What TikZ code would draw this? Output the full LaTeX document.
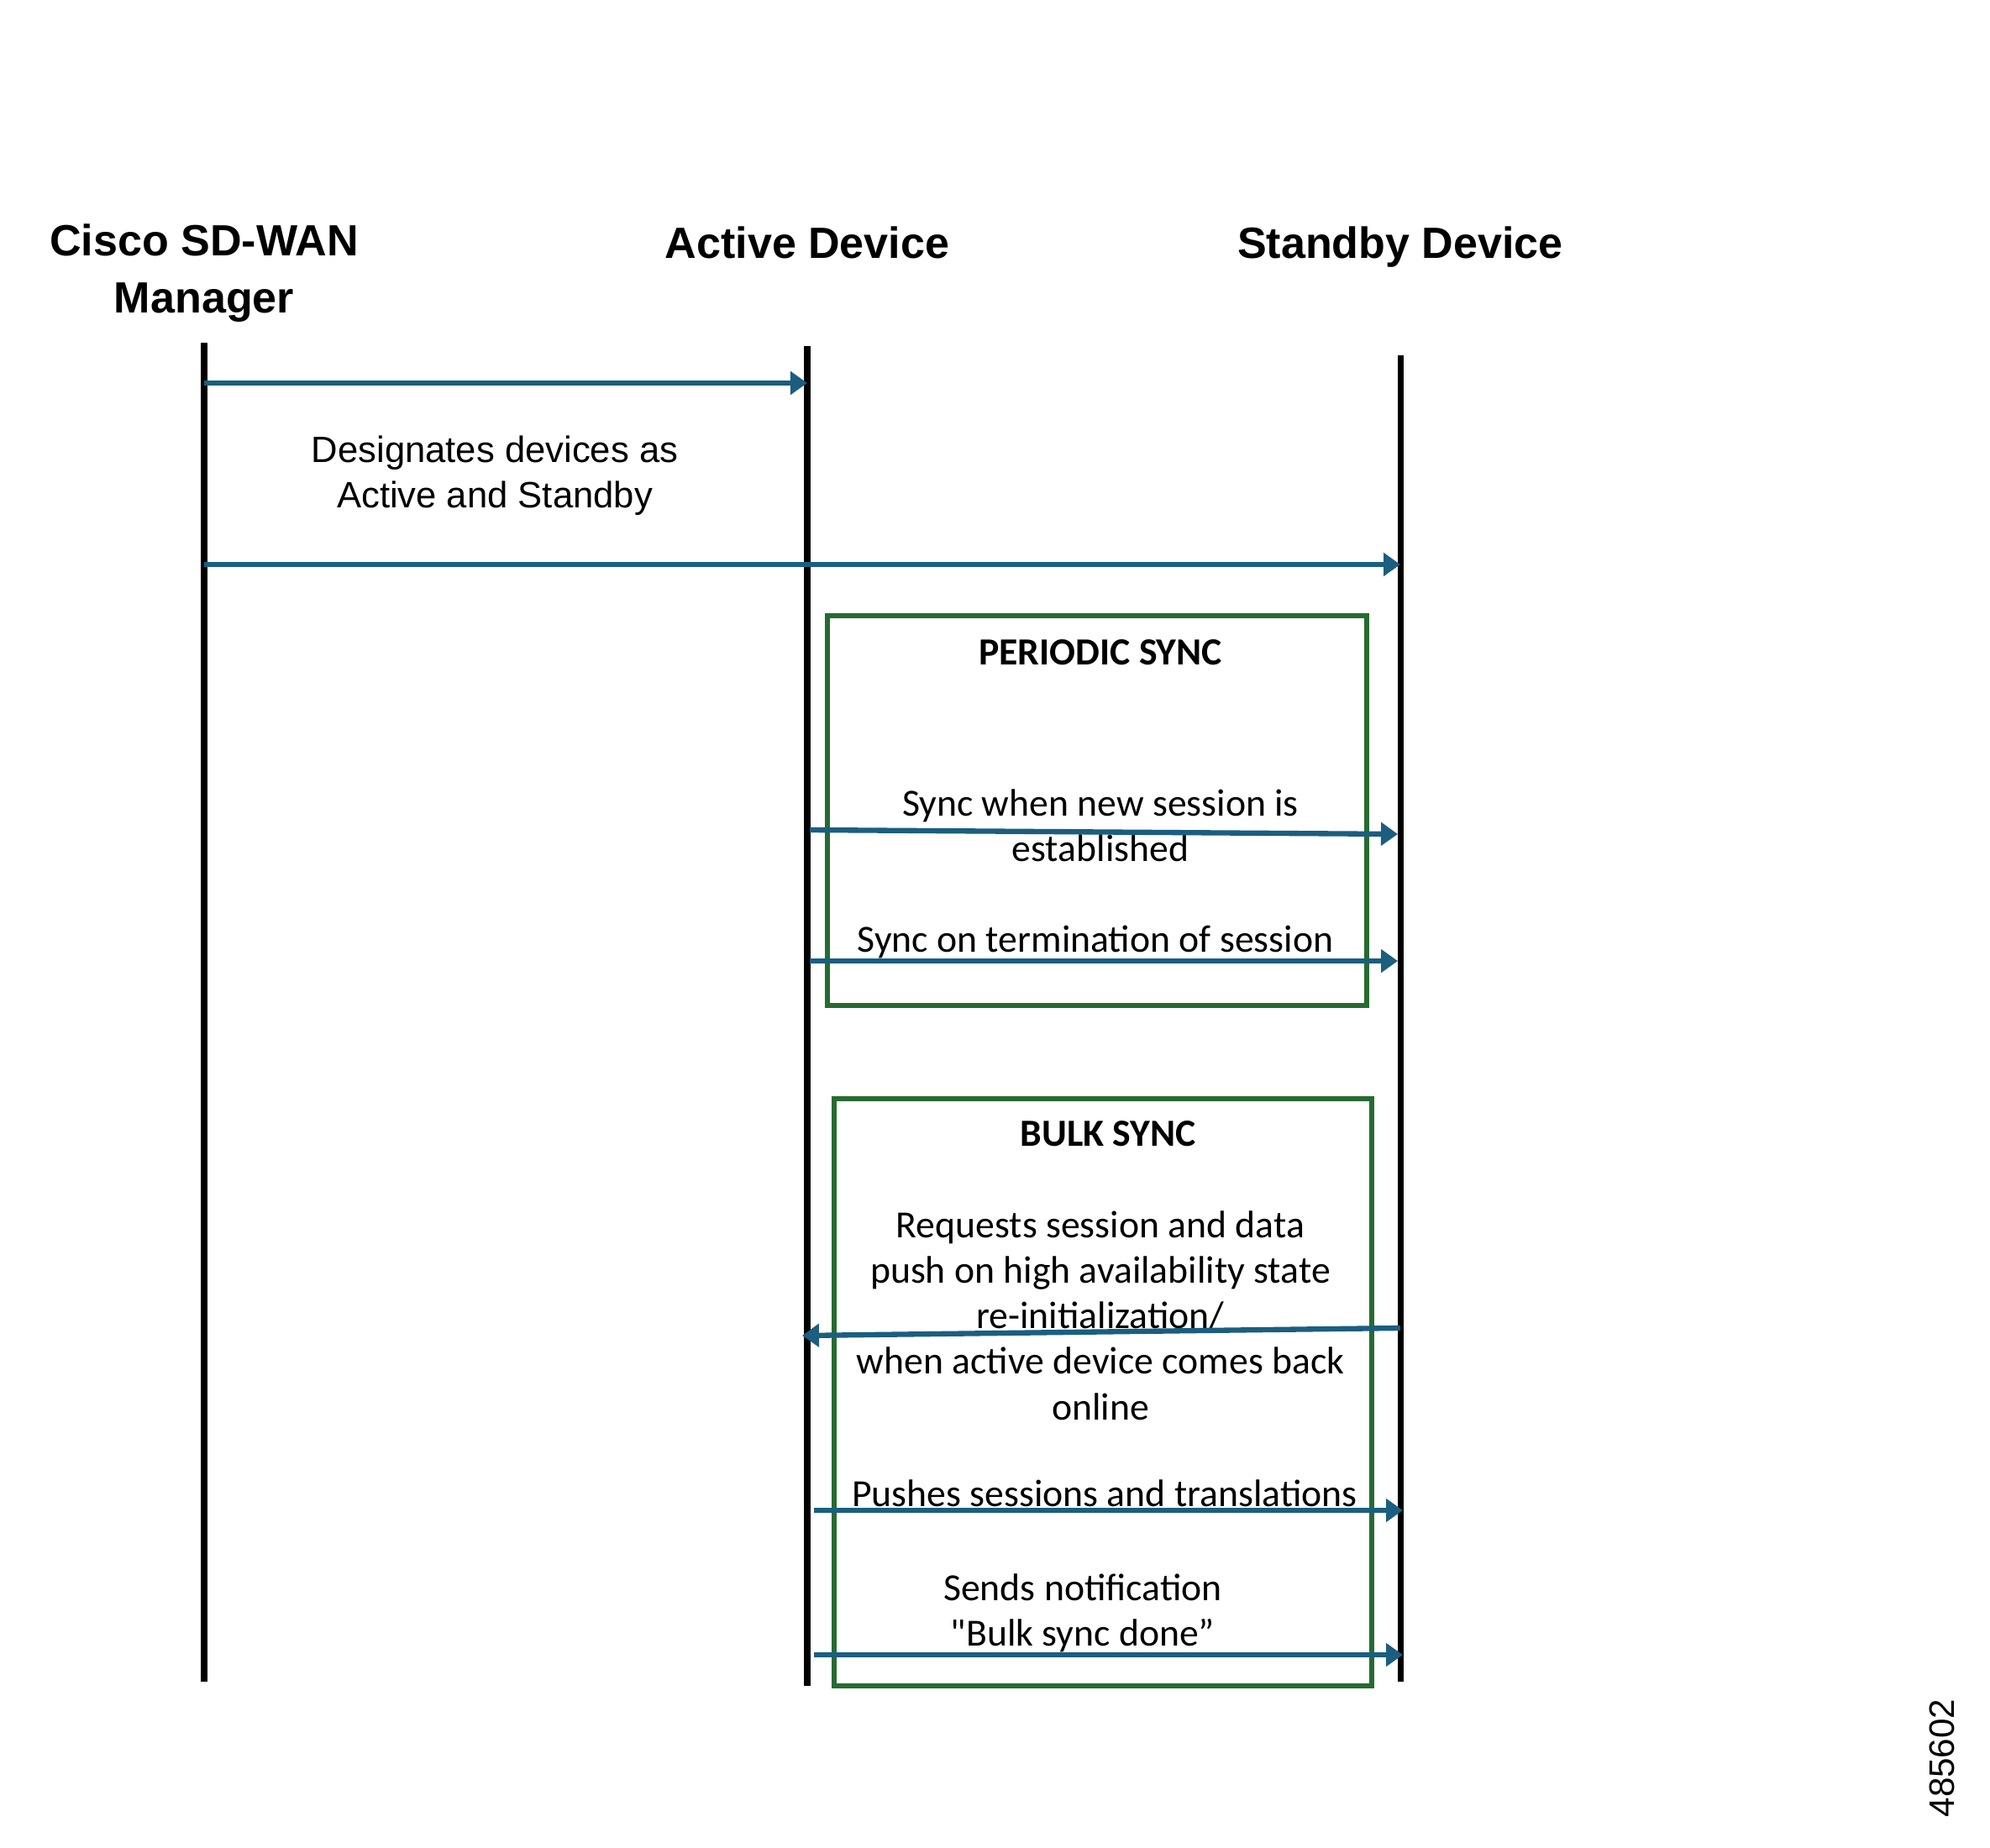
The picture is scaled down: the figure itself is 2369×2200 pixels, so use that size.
\documentclass[tikz,border=0pt]{standalone}
\usepackage{fontspec}
\setmainfont{Carlito}
\newfontfamily\headfont{Liberation Sans}
\newfontfamily\quotefont{Carlito}[Ligatures=ResetAll]
\usepackage{tikz}
\usetikzlibrary{arrows.meta,backgrounds}
\definecolor{msgblue}{RGB}{27,94,128}
\definecolor{boxgreen}{RGB}{38,107,48}
\tikzstyle{seq}=[
  x=0.01cm, y=-0.01cm, font=\fontsize{13}{15.4}\selectfont
]
\tikzstyle{actor}=[
  font=\headfont\bfseries\fontsize{14.8}{19.3}\selectfont, align=center, inner sep=0pt
]
\tikzstyle{lifeline}=[
  line width=2pt
]
\tikzstyle{syncbox}=[
  draw=boxgreen, line width=1.6pt
]
\tikzstyle{boxtitle}=[
  font=\bfseries\fontsize{13}{15.4}\selectfont, inner sep=0pt
]
\tikzstyle{msglabel}=[
  align=center, inner sep=0pt
]
\tikzset{
  msg/.style={draw=msgblue, line width=1.8pt, -{Triangle[length=0.2cm,width=0.27cm]}},
}

\begin{document}
\begin{tikzpicture}[seq]
      \useasboundingbox (0,0) rectangle (2369,2200);
        % actors
        \node (mgr) at (243,325) [actor] {Cisco SD-WAN\\Manager};
        \node (act) at (961,289) [actor] {Active Device};
        \node (sby) at (1667,294) [actor] {Standby Device};

        \coordinate (mgrtop) at (243,408);
        \coordinate (mgrbot) at (243,2002);
        \coordinate (acttop) at (961,412);
        \coordinate (actbot) at (961,2007);
        \coordinate (sbytop) at (1667,423);
        \coordinate (sbybot) at (1667,2002);

        \draw [lifeline] (mgrtop) -- (mgrbot);
        \draw [lifeline] (acttop) -- (actbot);
        \draw [lifeline] (sbytop) -- (sbybot);

        % sync boxes
        \draw [syncbox] (985,733) rectangle (1627,1197);
        \draw [syncbox] (993,1308) rectangle (1633,2007);
        \node (periodic) at (1310,777) [boxtitle] {PERIODIC SYNC};
        \node (bulk) at (1319,1350) [boxtitle] {BULK SYNC};

        % labels
        \node (designate) at (589,566) [msglabel, font=\headfont\fontsize{12.4}{15.4}\selectfont]
          {Designates devices as\\Active and Standby};
        \node (newsess) at (1310,983) [msglabel] {Sync when new session is\\established};
        \node (termsess) at (1304,1121) [msglabel] {Sync on termination of session};
        \node (request) at (1310,1566) [msglabel]
          {Requests session and data\\push on high availability state\\re-initialization/\\when active device comes back\\online};
        \node (pushes) at (1315,1778) [msglabel] {Pushes sessions and translations};
        \node (notify) at (1289,1920) [msglabel] {Sends notification\\ {\quotefont"}Bulk sync done”};
        \node (figid) at (2312,2093) [rotate=90, inner sep=0pt, font=\headfont\fontsize{12}{14}\selectfont] {485602};

        % message ends
        \coordinate (m1s) at (243,456);   \coordinate (m1e) at (961,456);
        \coordinate (m2s) at (243,672);   \coordinate (m2e) at (1667,672);
        \coordinate (m3s) at (964,988);   \coordinate (m3e) at (1664,993);
        \coordinate (m4s) at (964,1144);  \coordinate (m4e) at (1664,1144);
        \coordinate (m5s) at (1667,1581); \coordinate (m5e) at (955,1590);
        \coordinate (m6s) at (969,1798);  \coordinate (m6e) at (1670,1798);
        \coordinate (m7s) at (969,1970);  \coordinate (m7e) at (1670,1970);

          \draw [msg] (m1s) -- (m1e);
          \draw [msg] (m2s) -- (m2e);
          \draw [msg] (m3s) -- (m3e);
          \draw [msg] (m4s) -- (m4e);
          \draw [msg] (m5s) -- (m5e);
          \draw [msg] (m6s) -- (m6e);
          \draw [msg] (m7s) -- (m7e);
    \end{tikzpicture}
\end{document}
